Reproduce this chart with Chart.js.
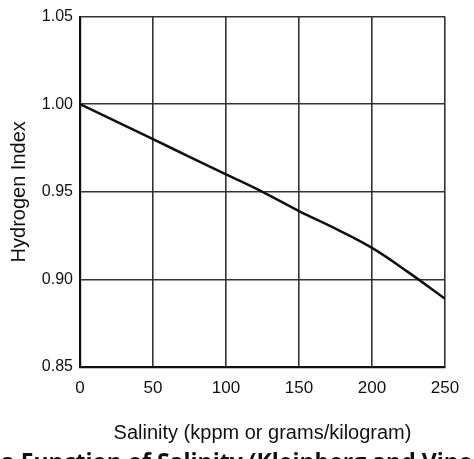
<!DOCTYPE html>
<html>
<head>
<meta charset="utf-8">
<script src="https://cdn.jsdelivr.net/npm/chart.js@4.4.1/dist/chart.umd.min.js"></script>
<style>
  html, body { margin: 0; padding: 0; background: #ffffff; }
  canvas { display: block; }
</style>
</head>
<body>
<canvas id="c" width="474" height="459"></canvas>
<script>
// Data
const salinity = [0, 25, 50, 75, 100, 125, 150, 175, 200, 225, 250];
const hydrogenIndex = [1.000, 0.990, 0.980, 0.970, 0.960, 0.950, 0.939, 0.929, 0.918, 0.904, 0.889];

const xTickValues = [0, 50, 100, 150, 200, 250];
const xTickLabels = ['0', '50', '100', '150', '200', '250'];
const yTickValues = [0.85, 0.90, 0.95, 1.00, 1.05];
const yTickLabels = ['0.85', '0.90', '0.95', '1.00', '1.05'];

const xAxisTitle = 'Salinity (kppm or grams/kilogram)';
const yAxisTitle = 'Hydrogen Index';
const captionText = 'Hydrogen Index as a Function of Salinity (Kleinberg and Vinegar, 1996)';
const captionVisibleFrom = 'a Function';

const points = salinity.map((x, i) => ({ x: x, y: hydrogenIndex[i] }));

const captionPlugin = {
  id: 'caption',
  afterDraw(chart) {
    const ctx = chart.ctx;
    ctx.save();
    ctx.font = 'bold 23px "Open Sans", "Liberation Sans", sans-serif';
    ctx.fillStyle = '#111111';
    ctx.textBaseline = 'alphabetic';
    ctx.textAlign = 'left';
    const idx = captionText.indexOf(captionVisibleFrom);
    const prefixW = ctx.measureText(captionText.slice(0, idx)).width;
    ctx.fillText(captionText, 1 - prefixW, 470);
    ctx.restore();
  }
};

new Chart(document.getElementById('c'), {
  type: 'line',
  data: {
    datasets: [{
      data: points,
      borderColor: '#111111',
      borderWidth: 2.5,
      pointRadius: 0,
      fill: false,
      tension: 0.4
    }]
  },
  options: {
    responsive: false,
    animation: false,
    devicePixelRatio: 1,
    layout: { padding: { top: 10, right: 29, left: 0, bottom: 0 } },
    plugins: {
      legend: { display: false },
      tooltip: { enabled: false },
      title: { display: false }
    },
    scales: {
      x: {
        type: 'linear',
        min: 0,
        max: 250,
        afterBuildTicks(scale) { scale.ticks = xTickValues.map(v => ({ value: v })); },
        afterFit(scale) { scale.height = 92; },
        ticks: {
          autoSkip: false,
          maxRotation: 0,
          padding: 11,
          color: '#111111',
          font: { family: '"Liberation Sans", Arial, sans-serif', size: 17 },
          callback: (v, i) => xTickLabels[i]
        },
        grid: { color: '#333333', lineWidth: 1.6, drawTicks: false },
        border: { display: true, color: '#111111', width: 2.2 },
        title: {
          display: true,
          text: xAxisTitle,
          color: '#111111',
          font: { family: '"Liberation Sans", Arial, sans-serif', size: 20, lineHeight: 1.2 },
          padding: { top: 0, bottom: 14 }
        }
      },
      y: {
        type: 'linear',
        min: 0.85,
        max: 1.05,
        afterBuildTicks(scale) { scale.ticks = yTickValues.map(v => ({ value: v })); },
        afterFit(scale) { scale.width = 80; },
        ticks: {
          autoSkip: false,
          padding: 7,
          color: '#111111',
          font: { family: '"Liberation Sans", Arial, sans-serif', size: 16 },
          callback: (v, i) => yTickLabels[i]
        },
        grid: { color: '#333333', lineWidth: 1.6, drawTicks: false },
        border: { display: true, color: '#111111', width: 2.2 },
        title: {
          display: true,
          text: yAxisTitle,
          color: '#111111',
          font: { family: '"Liberation Sans", Arial, sans-serif', size: 20, lineHeight: 1.2 },
          padding: { top: 7, bottom: 0 }
        }
      }
    }
  },
  plugins: [captionPlugin]
});
</script>
</body>
</html>
